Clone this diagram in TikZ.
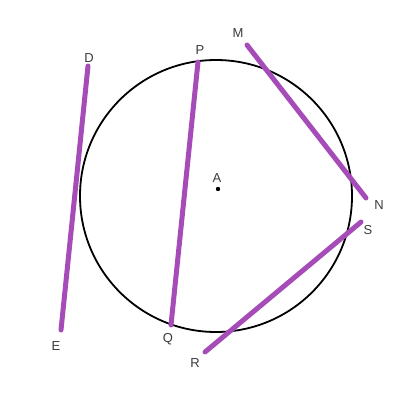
\documentclass[tikz,border=0pt]{standalone}
\usepackage{fontspec}
\setmainfont{Liberation Sans}
\definecolor{seg}{HTML}{A64CB8}
\definecolor{lab}{HTML}{3A3A3A}
\begin{document}
\begin{tikzpicture}[x=1pt,y=-1pt,
  segline/.style={seg,line width=5pt,line cap=round},
  lbl/.style={text=lab,font=\fontsize{13}{13}\selectfont,inner sep=0pt}]
\useasboundingbox (0,0) rectangle (414,414);
\draw[line width=1.8pt] (216,196) circle[radius=136];
\coordinate (d) at (88,66);
\coordinate (e) at (61,330);
\coordinate (p) at (198,62);
\coordinate (q) at (171,325);
\coordinate (m) at (247,45);
\coordinate (n) at (366,198);
\coordinate (r) at (205,352);
\coordinate (s) at (361,222);
\draw[segline] (d) -- (e);
\draw[segline] (p) -- (q);
\draw[segline] (m) -- (n);
\draw[segline] (r) -- (s);
\fill (218,189) circle[radius=2.2];
\node[lbl] (lA) at (217,178) {A};
\node[lbl] (lD) at (89,58) {D};
\node[lbl] (lE) at (56,346) {E};
\node[lbl] (lP) at (200,50) {P};
\node[lbl] (lQ) at (168,339) {Q};
\node[lbl] (lM) at (238,33) {M};
\node[lbl] (lN) at (379,205) {N};
\node[lbl] (lR) at (195,363) {R};
\node[lbl] (lS) at (368,230) {S};
\end{tikzpicture}
\end{document}
